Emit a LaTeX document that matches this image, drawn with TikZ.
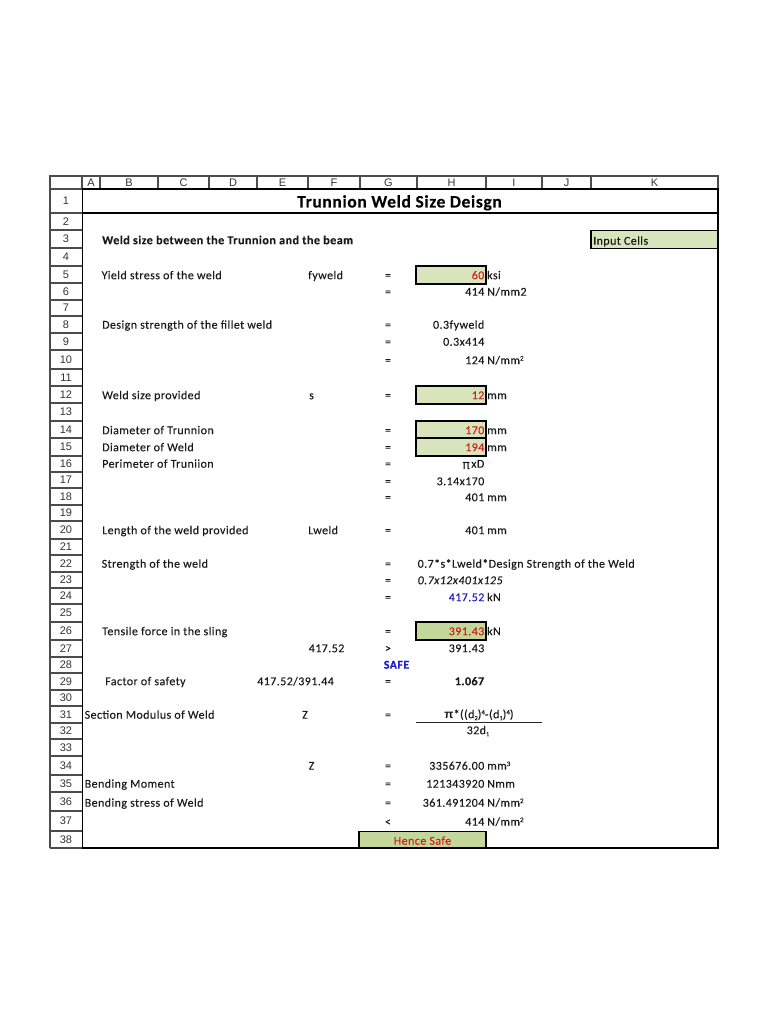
\documentclass[tikz,border=0pt]{standalone}
\usepackage{fontspec}
\setmainfont[LetterSpace=3.5,FakeBold=0.12]{Carlito}
\newfontfamily\hdrfont{Liberation Sans}
\newfontfamily\pifont{DejaVu Sans}
\definecolor{inputgreen}{HTML}{D8E4BC}
\definecolor{darkgreen}{HTML}{C4D79B}
\definecolor{inred}{HTML}{D0201C}
\definecolor{inblue}{HTML}{1C1CC8}
\definecolor{inktext}{HTML}{1A1A1A}
\newcommand{\upidx}[1]{\raisebox{3.6pt}{\fontsize{7}{7}\selectfont #1}}
\newcommand{\dnidx}[1]{\raisebox{-2pt}{\fontsize{6.5}{7}\selectfont #1}}
\tikzset{
  hdr/.style={font=\hdrfont\fontsize{11}{12}\selectfont, text=black!80, inner sep=0pt},
  grid/.style={draw=black!70, line width=1.2pt},
  frame/.style={draw=black, line width=1.7pt},
  lbl/.style={anchor=base west, yshift=-0.7pt, inner sep=0pt, text=inktext, font=\fontsize{12}{13}\selectfont},
  val/.style={anchor=base east, yshift=-0.7pt, inner sep=0pt, text=inktext, font=\fontsize{12}{13}\selectfont},
  mid/.style={anchor=base, yshift=-0.7pt, inner sep=0pt, text=inktext, font=\fontsize{12}{13}\selectfont},
  incell/.style={draw=black, line width=1.7pt, fill=inputgreen, minimum width=70pt, minimum height=17.5pt, inner sep=0pt},
}
\begin{document}
\begin{tikzpicture}[x=1pt, y=-1pt]
  \useasboundingbox (0,0) rectangle (768,1024);
  % green cells
  \foreach \y/\n in {275/5, 395/12, 430/14, 447/15}
    \node[incell] (cell\n) at (451,\y) {};
  \node[incell, fill=darkgreen] (cell26) at (451,631) {};
  \node[incell, fill=darkgreen, minimum width=127pt, minimum height=17pt] (safe) at (422.5,840) {};
  \node[incell, minimum width=127pt, minimum height=18pt] (input) at (654.5,239.5) {};
  % column heads
  \draw[grid] (50,176) rectangle (718,189);
  \foreach \a/\b/\t in {82/100/A, 100/158/B, 158/209/C, 209/257/D, 257/308/E, 308/360/F, 360/417/G, 417/486/H, 486/542/I, 542/591/J, 591/718/K} {
    \draw[grid] (\a,176) -- (\a,189);
    \node[hdr] (col\t) at ({(\a+\b)/2},182.5) {\t};
  }
  % row heads
  \foreach \n/\a/\b in {1/189/213, 2/213/230, 3/230/248, 4/248/266, 5/266/283, 6/283/300, 7/300/316, 8/316/333, 9/333/350, 10/350/369, 11/369/386, 12/386/403, 13/403/421, 14/421/438, 15/438/456, 16/456/472, 17/472/488, 18/488/505, 19/505/521, 20/521/539, 21/539/555, 22/555/572, 23/572/588, 24/588/604, 25/604/622, 26/622/640, 27/640/657, 28/657/673, 29/673/690, 30/690/706, 31/706/723, 32/723/739, 33/739/756, 34/756/775, 35/775/792, 36/792/811, 37/811/831, 38/831/848} {
    \draw[grid] (50,\b) -- (82,\b);
    \node[hdr] (row\n) at (66,{(\a+\b)/2}) {\n};
  }
  \draw[grid] (50,176) -- (50,848);
  % sheet frame
  \draw[frame] (82.5,189) rectangle (718,848);
  \draw[frame] (82.5,213) -- (718,213);
  \node[anchor=base, inner sep=0pt, font=\fontsize{17.5}{20}\selectfont\bfseries] (title) at (399.5,207.5) {Trunnion Weld Size Deisgn};
  % left labels
  \node[lbl, font=\fontsize{12.2}{13}\selectfont\bfseries] (sub) at (102,243.5) {Weld size between the Trunnion and the beam};
  \node[lbl] (yield) at (101.5,278.5) {Yield stress of the weld};
  \node[lbl] (design) at (102,328) {Design strength of the fillet weld};
  \node[lbl] (size) at (102,398.5) {Weld size provided};
  \node[lbl] (dtrun) at (102,433.5) {Diameter of Trunnion};
  \node[lbl] (dweld) at (102,450.5) {Diameter of Weld};
  \node[lbl] (perim) at (102,467) {Perimeter of Truniion};
  \node[lbl] (length) at (102,533.5) {Length of the weld provided};
  \node[lbl] (strength) at (101.5,567) {Strength of the weld};
  \node[lbl] (tensile) at (102,634.5) {Tensile force in the sling};
  \node[lbl] (factor) at (105,684.5) {Factor of safety};
  \node[lbl] (modulus) at (84.5,718) {Section Modulus of Weld};
  \node[lbl] (moment) at (84.5,787) {Bending Moment};
  \node[lbl] (stress) at (84.5,806) {Bending stress of Weld};
  % symbols
  \node[lbl] (fy) at (308,278.5) {fyweld};
  \node[lbl] (s) at (309,398.5) {s};
  \node[lbl] (lw) at (308,533.5) {Lweld};
  \node[val] (lhs) at (344.5,651.5) {417.52};
  \node[val] (ratio) at (334,684.5) {417.52/391.44};
  \node[lbl] (z1) at (302,718) {Z};
  \node[lbl] (z2) at (308.5,769) {Z};
  % relations
  \foreach \y in {278.5, 295, 328, 345, 363.5, 398.5, 433.5, 450.5, 467, 484.5, 500.5, 533.5, 567, 583.5, 600.5, 634.5, 684.5, 718, 769, 787, 806}
    \node[mid] (eq\y) at (388,\y) {=};
  \node[mid] (gt) at (388,651.5) {>};
  \node[mid] (lt) at (388,825) {<};
  \node[mid, text=inblue, font=\fontsize{12}{13}\selectfont\bfseries] (verdict) at (396.5,668) {SAFE};
  % values
  \node[val, text=inred] (v5) at (484.5,278.5) {60};
  \node[val] (v6) at (484.5,295) {414};
  \node[val] (v8) at (484.5,328) {0.3fyweld};
  \node[val] (v9) at (484.5,345) {0.3x414};
  \node[val] (v10) at (484.5,363.5) {124};
  \node[val, text=inred] (v12) at (484.5,398.5) {12};
  \node[val, text=inred] (v14) at (484.5,433.5) {170};
  \node[val, text=inred] (v15) at (484.5,450.5) {194};
  \node[val] (v16) at (484.5,467) {\raisebox{-2pt}{\pifont\fontsize{13}{13}\selectfont π}\kern1pt xD};
  \node[val] (v17) at (484.5,484.5) {3.14x170};
  \node[val] (v18) at (484.5,500.5) {401};
  \node[val] (v20) at (484.5,533.5) {401};
  \node[lbl] (v22) at (417.5,567) {0.7*s*Lweld*Design Strength of the Weld};
  \node[lbl, font=\fontsize{12}{13}\selectfont\itshape] (v23) at (417.5,583.5) {0.7x12x401x125};
  \node[val, text=inblue] (v24) at (484.5,600.5) {417.52};
  \node[val, text=inred] (v26) at (484.5,634.5) {391.43};
  \node[val] (v27) at (484.5,651.5) {391.43};
  \node[mid, font=\fontsize{12}{13}\selectfont\bfseries] (v29) at (469.5,684.5) {1.067};
  \node[mid] (num) at (479,717.5) {{\hdrfont\bfseries π}*((d\dnidx{2})\upidx{4}-(d\dnidx{1})\upidx{4})};
  \coordinate (barl) at (416,722.5);
  \coordinate (barr) at (542,722.5);
  \draw[line width=1pt, draw=black!85] (barl) -- (barr);
  \node[mid] (den) at (478,733.5) {32d\dnidx{1}};
  \node[val] (v34) at (484.5,769) {335676.00};
  \node[val] (v35) at (484.5,787) {121343920};
  \node[val] (v36) at (484.5,806) {361.491204};
  \node[val] (v37) at (484.5,825) {414};
  % units
  \node[lbl] (u5) at (487,278.5) {ksi};
  \node[lbl] (u6) at (487,295) {N/mm2};
  \node[lbl] (u10) at (487,363.5) {N/mm\upidx{2}};
  \node[lbl] (u12) at (487,398.5) {mm};
  \node[lbl] (u14) at (487,433.5) {mm};
  \node[lbl] (u15) at (487,450.5) {mm};
  \node[lbl] (u18) at (487,500.5) {mm};
  \node[lbl] (u20) at (487,533.5) {mm};
  \node[lbl] (u24) at (487,600.5) {kN};
  \node[lbl] (u26) at (487,634.5) {kN};
  \node[lbl] (u34) at (487,769) {mm\upidx{3}};
  \node[lbl] (u35) at (487,787) {Nmm};
  \node[lbl] (u36) at (487,806) {N/mm\upidx{2}};
  \node[lbl] (u37) at (487,825) {N/mm\upidx{2}};
  % filled cell captions
  \node[mid, text=inred] (hence) at (422.5,844) {Hence Safe};
  \node[lbl] (inputtxt) at (593,244) {Input Cells};
\end{tikzpicture}
\end{document}
